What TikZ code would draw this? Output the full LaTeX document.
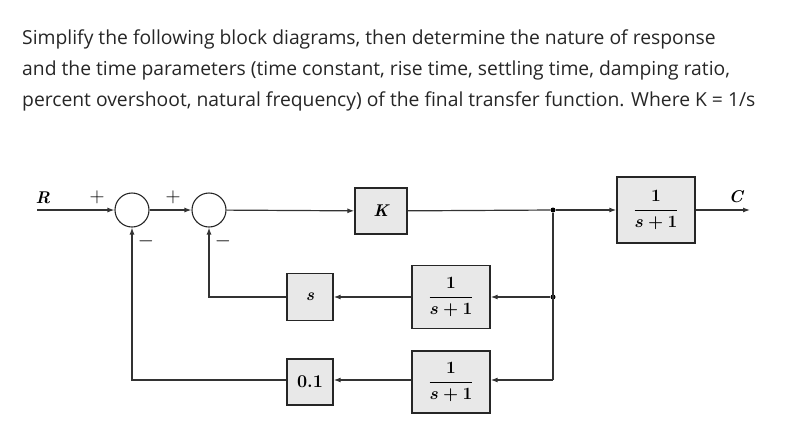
\documentclass[tikz,border=0pt]{standalone}
\usepackage{fontspec}
\setmainfont{Open Sans}
\newfontfamily\serf{Latin Modern Roman}
\usetikzlibrary{arrows.meta}
\begin{document}
\begin{tikzpicture}[x=1pt,y=-1pt,
  blk/.style={draw=black!85,line width=1.4pt,fill=black!9,inner sep=0pt},
  sm/.style={draw=black!85,line width=1.1pt,circle,minimum size=34pt,inner sep=0pt},
  ln/.style={draw=black!80,line width=1.2pt},
  ar/.style={ln,-{Latex[length=7pt,width=5pt]}},
  dot/.style={circle,fill=black,inner sep=0pt,minimum size=5pt},
  lbl/.style={font=\fontsize{17}{20}\serf\bfseries\itshape},
  fr/.style={font=\fontsize{18}{21}\serf\bfseries\boldmath},
  sg/.style={font=\fontsize{20}{22}\serf},
  txt/.style={anchor=base west,font=\fontsize{19.3}{22}\selectfont,text=black!85,inner sep=0pt}]
\useasboundingbox (0,0) rectangle (808,432);
\node[txt] (t1) at (22,44) {Simplify the following block diagrams, then determine the nature of response};
\node[txt] (t2) at (22,75) {and the time parameters (time constant, rise time, settling time, damping ratio,};
\node[txt] (t3) at (22,106) {percent overshoot, natural frequency) of the final transfer function. Where K = 1/s};
\coordinate (r) at (37,210);
\node[lbl] (rl) at (43,198) {R};
\node[sm] (s1) at (132,210) {};
\node[sm] (s2) at (209,210) {};
\node[blk,minimum width=52pt,minimum height=46pt,lbl] (k) at (381,211) {K};
\node[dot] (j1) at (553,210) {};
\node[blk,minimum width=78pt,minimum height=66pt,fr] (g) at (656,210) {$\displaystyle\frac{1}{s+1}$};
\coordinate (c) at (750,210);
\node[lbl] (cl) at (736,197) {C};
\node[blk,minimum width=46pt,minimum height=47pt,lbl] (sb) at (310,297) {s};
\node[blk,minimum width=78pt,minimum height=63pt,fr] (g2) at (451,297) {$\displaystyle\frac{1}{s+1}$};
\node[dot] (j2) at (553,297) {};
\node[blk,minimum width=46pt,minimum height=46pt,fr] (pb) at (310,382) {0.1};
\node[blk,minimum width=78pt,minimum height=62pt,fr] (g3) at (451,382) {$\displaystyle\frac{1}{s+1}$};
\coordinate (j3) at (553,380);
\node[sg] (p1) at (97,197) {$+$};
\node[sg] (p2) at (173,197) {$+$};
\node[sg] (m1) at (146,241) {$-$};
\node[sg] (m2) at (223,241) {$-$};
\draw[ar] (r) -- (s1);
\draw[ar] (s1) -- (s2);
\draw[ar] (s2) -- (k);
\draw[ln] (k) -- (j1);
\draw[ar] (j1) -- (g);
\draw[ar] (g) -- (c);
\draw[ln] (j1) -- (j3);
\draw[ar] (j2) -- (g2);
\draw[ar] (j3) -- (g3.east|-j3);
\draw[ar] (g2) -- (sb);
\draw[ar] (g3.west|-j3) -- (pb.east|-j3);
\draw[ar] (sb) -| (s2);
\draw[ar] (pb.west|-j3) -| (s1);
\end{tikzpicture}
\end{document}
